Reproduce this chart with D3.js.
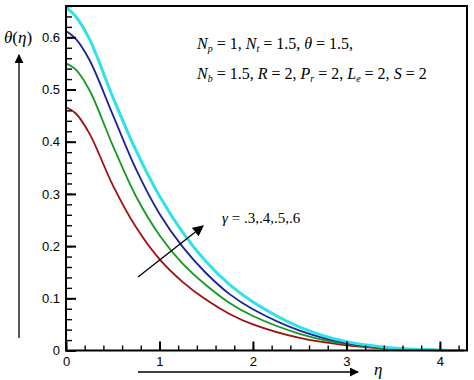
<!DOCTYPE html>
<html><head><meta charset="utf-8">
<script src="https://cdn.jsdelivr.net/npm/d3@7"></script>
<style>body{margin:0;background:#fff}svg{display:block}</style>
</head><body><svg id="c" width="474" height="380"></svg>
<script>
const eta = [0, 0.1, 0.25, 0.5, 0.75, 1, 1.25, 1.5, 1.75, 2, 2.5, 3, 3.5, 4, 4.25];
const thetaG3 = [0.466, 0.455, 0.416, 0.317, 0.236, 0.175, 0.131, 0.097, 0.07, 0.05, 0.024, 0.01, 0.003, 0.001, 0];
const thetaG4 = [0.55, 0.539, 0.499, 0.393, 0.295, 0.221, 0.166, 0.125, 0.091, 0.066, 0.032, 0.012, 0.003, 0.0005, 0];
const thetaG5 = [0.612, 0.598, 0.557, 0.452, 0.347, 0.262, 0.198, 0.148, 0.108, 0.079, 0.038, 0.014, 0.004, 0.001, 0];
const thetaG6 = [0.657, 0.641, 0.597, 0.486, 0.383, 0.296, 0.226, 0.17, 0.126, 0.093, 0.045, 0.017, 0.005, 0.001, 0];
const series = [
  {name: "γ=.3", values: thetaG3, color: "#a00f12", width: 1.8},
  {name: "γ=.4", values: thetaG4, color: "#149a1e", width: 1.8},
  {name: "γ=.5", values: thetaG5, color: "#1c2396", width: 1.8},
  {name: "γ=.6", values: thetaG6, color: "#30e2e6", width: 3}
];
const xMajor = [0, 1, 2, 3, 4];
const yMajor = [0, 0.1, 0.2, 0.3, 0.4, 0.5, 0.6];
const yLabels = ["0", "0.1", "0.2", "0.3", "0.4", "0.5", "0.6"];

const svg = d3.select("#c");
const L = 66, R = 467, T = 6, B = 350.5;
const x = d3.scaleLinear().domain([0, 4.29]).range([L, R]);
const y = d3.scaleLinear().domain([0, 0.66]).range([B, T]);

// curves
const line = d3.line().x((d, i) => x(eta[i])).y(d => y(d)).curve(d3.curveCatmullRom.alpha(0.5));
series.forEach(s => {
  svg.append("path").attr("d", line(s.values)).attr("fill", "none")
    .attr("stroke", s.color).attr("stroke-width", s.width);
});

// frame
svg.append("rect").attr("x", L).attr("y", T).attr("width", R - L).attr("height", B - T)
  .attr("fill", "none").attr("stroke", "#000").attr("stroke-width", 2);

// x ticks
const xMinor = d3.range(0, 4.21, 0.2);
const gx = svg.append("g").attr("transform", `translate(0,${B})`);
gx.call(d3.axisBottom(x).tickValues(xMinor).tickSize(-5).tickFormat(""));
gx.select(".domain").remove();
gx.selectAll("line").attr("stroke", "#000").attr("stroke-width", 1.4);
const gx2 = svg.append("g").attr("transform", `translate(0,${B})`);
gx2.call(d3.axisBottom(x).tickValues(xMajor).tickSize(-9).tickPadding(14).tickFormat(d3.format("d")));
gx2.select(".domain").remove();
gx2.selectAll("line").attr("stroke", "#000").attr("stroke-width", 2);
gx2.selectAll("text").attr("font-family", "Liberation Sans, Arial, sans-serif").attr("font-size", 13).attr("fill", "#000").attr("dy", "0.1em");

// y ticks
const yMinor = d3.range(0, 0.661, 0.02);
const gy = svg.append("g").attr("transform", `translate(${L},0)`);
gy.call(d3.axisLeft(y).tickValues(yMinor).tickSize(-6).tickFormat(""));
gy.select(".domain").remove();
gy.selectAll("line").attr("stroke", "#000").attr("stroke-width", 1.4);
const gy2 = svg.append("g").attr("transform", `translate(${L},0)`);
gy2.call(d3.axisLeft(y).tickValues(yMajor).tickSize(-10).tickPadding(6).tickFormat((d, i) => yLabels[i]));
gy2.select(".domain").remove();
gy2.selectAll("line").attr("stroke", "#000").attr("stroke-width", 2);
gy2.selectAll("text").attr("font-family", "Liberation Sans, Arial, sans-serif").attr("font-size", 13).attr("fill", "#000");

// defs arrowhead
const defs = svg.append("defs");
defs.append("marker").attr("id", "ah").attr("viewBox", "0 0 10 10").attr("refX", 9).attr("refY", 5)
  .attr("markerWidth", 9).attr("markerHeight", 9).attr("markerUnits", "userSpaceOnUse").attr("orient", "auto")
  .append("path").attr("d", "M0,0 L10,5 L0,10 Z").attr("fill", "#000");
defs.append("marker").attr("id", "ah2").attr("viewBox", "0 0 10 10").attr("refX", 9).attr("refY", 5)
  .attr("markerWidth", 11).attr("markerHeight", 11).attr("markerUnits", "userSpaceOnUse").attr("orient", "auto")
  .append("path").attr("d", "M0,0 L10,5 L0,10 Z").attr("fill", "#000");

// in-plot gamma arrow
svg.append("line").attr("x1", 138).attr("y1", 277).attr("x2", 203).attr("y2", 226)
  .attr("stroke", "#000").attr("stroke-width", 1.3).attr("marker-end", "url(#ah2)");

const serif = "Liberation Serif, Times New Roman, serif";
// gamma label
const gt = svg.append("text").attr("x", 222).attr("y", 223).attr("font-family", serif).attr("font-size", 15).attr("fill", "#000");
gt.append("tspan").attr("font-style", "italic").text("γ");
gt.append("tspan").text(" = .3,.4,.5,.6");

// parameter text
function paramLine(yPos, parts) {
  const t = svg.append("text").attr("x", 197).attr("y", yPos).attr("font-family", serif).attr("font-size", 16).attr("fill", "#000");
  parts.forEach(p => {
    const ts = t.append("tspan").text(p[0]);
    if (p[1] === "i") ts.attr("font-style", "italic");
    if (p[1] === "s") ts.attr("font-style", "italic").attr("font-size", 10).attr("dy", 3);
    if (p[1] === "n" && p[2]) ts.attr("dy", -3);
  });
}
paramLine(49, [["N", "i"], ["p", "s"], [" = 1, ", "n", 1], ["N", "i"], ["t", "s"], [" = 1.5, ", "n", 1], ["θ", "i"], [" = 1.5,", "n"]]);
paramLine(79, [["N", "i"], ["b", "s"], [" = 1.5, ", "n", 1], ["R", "i"], [" = 2, ", "n"], ["P", "i"], ["r", "s"], [" = 2, ", "n", 1], ["L", "i"], ["e", "s"], [" = 2, ", "n", 1], ["S", "i"], [" = 2", "n"]]);

// axis titles
const yt = svg.append("text").attr("x", 4).attr("y", 43).attr("font-family", serif).attr("font-size", 17).attr("fill", "#000");
yt.append("tspan").attr("font-style", "italic").text("θ");
yt.append("tspan").text("(");
yt.append("tspan").attr("font-style", "italic").text("η");
yt.append("tspan").text(")");
svg.append("line").attr("x1", 19).attr("y1", 338).attr("x2", 19).attr("y2", 55)
  .attr("stroke", "#000").attr("stroke-width", 1.3).attr("marker-end", "url(#ah)");
svg.append("line").attr("x1", 138).attr("y1", 372).attr("x2", 358).attr("y2", 372)
  .attr("stroke", "#000").attr("stroke-width", 1.3).attr("marker-end", "url(#ah)");
svg.append("text").attr("x", 374).attr("y", 375).attr("font-family", serif).attr("font-style", "italic").attr("font-size", 17).attr("fill", "#000").text("η");
</script></body></html>
